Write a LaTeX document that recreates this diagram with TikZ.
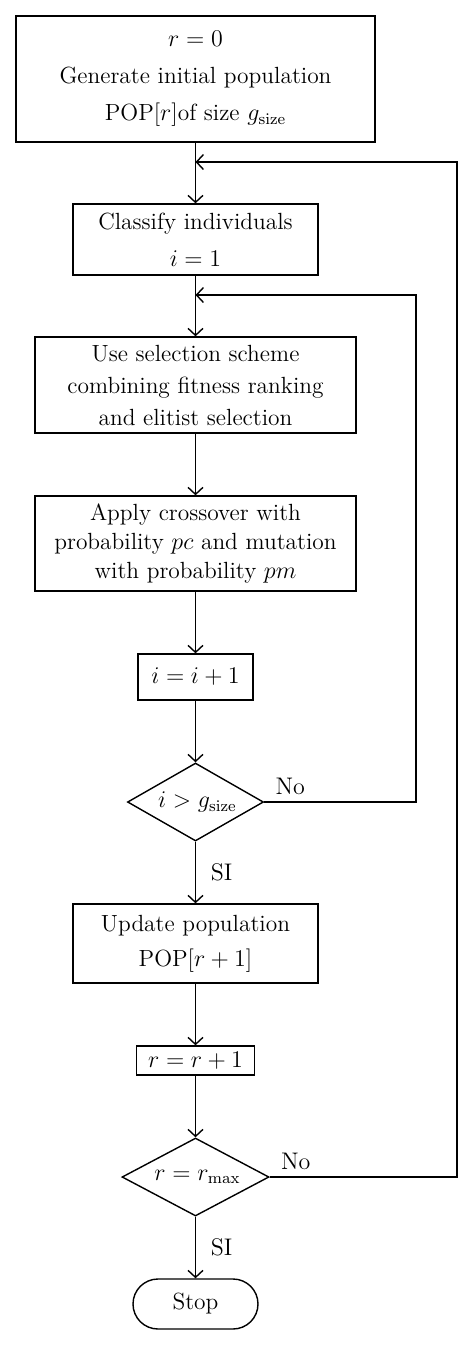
\documentclass[tikz,border=0pt]{standalone}
\usepackage{amsmath}
\usepackage{tikz}
\usetikzlibrary{arrows.meta,shapes.geometric}

\begin{document}
\begin{tikzpicture}[
    x=0.5pt, y=-0.5pt,
    every node/.style={font=\fontsize{11.7}{18.5}\selectfont},
    procbox/.style={rectangle, draw, line width=0.7pt, align=center,
        inner sep=0pt},
    decide/.style={diamond, draw, line width=0.7pt, inner sep=0pt,
        aspect=1.8},
    stopbox/.style={rectangle, rounded corners=12.5pt, draw,
        line width=0.7pt, inner sep=0pt},
    flow/.style={draw, line width=0.7pt,
        -{Straight Barb[length=3.5pt, width=7.5pt]}},
    lbl/.style={font=\fontsize{12}{13}\selectfont}
]
\useasboundingbox (0,0) rectangle (474,1346);
\node[procbox, minimum width=179.5pt, minimum height=63pt]
    (init) at (195.5, 79) {$r = 0$\\Generate initial population\\
    POP[$r$]of size $g_{\mathrm{size}}$};
\node[procbox, minimum width=122.5pt, minimum height=35.5pt]
    (classify) at (195.5, 239.5) {Classify individuals\\$i = 1$};
\node[procbox, minimum width=160.5pt, minimum height=48pt,
    font=\fontsize{11.7}{16}\selectfont]
    (select) at (195.5, 385) {Use selection scheme\\
    combining fitness ranking\\and elitist selection};
\node[procbox, minimum width=160.5pt, minimum height=47.5pt,
    font=\fontsize{11.7}{14.5}\selectfont]
    (cross) at (195.5, 543.5) {Apply crossover with\\
    probability $pc$ and mutation\\with probability $pm$};
\node[procbox, minimum width=57.5pt, minimum height=23pt]
    (inci) at (195.5, 677) {$i = i + 1$};
\node[decide, minimum width=68pt, minimum height=39pt]
    (testi) at (195.5, 802) {\,$i > g_{\mathrm{size}}$};
\node[procbox, minimum width=122.5pt, minimum height=39.5pt,
    font=\fontsize{11.7}{17.5}\selectfont]
    (update) at (195.5, 943.5) {Update population\\POP[$r + 1$]};
\node[procbox, minimum width=59pt, minimum height=14.5pt]
    (incr) at (195.5, 1060.5) {$r = r + 1$};
\node[decide, minimum width=73.5pt, minimum height=39pt]
    (testr) at (195.5, 1177) {\,$r = r_{\max}$};
\node[stopbox, minimum width=62.5pt, minimum height=25pt]
    (stop) at (195.5, 1304) {Stop};
% loop junctions and right rails
\coordinate (jout) at (195.5, 162);
\coordinate (jin)  at (195.5, 295);
\coordinate (railout) at (457, 0);
\coordinate (railin)  at (416, 0);
\draw[flow] (init) -- (classify);
\draw[flow] (classify) -- (select);
\draw[flow] (select) -- (cross);
\draw[flow] (cross) -- (inci);
\draw[flow] (inci) -- (testi);
\draw[flow] (testi) -- node[right, lbl, xshift=4pt]{SI} (update);
\draw[flow] (update) -- (incr);
\draw[flow] (incr) -- (testr);
\draw[flow] (testr) -- node[right, lbl, xshift=4pt]{SI} (stop);
\draw[flow] (testi.east) -- node[pos=0, above right, lbl, xshift=2pt]{No}
    (testi.east -| railin) |- (jin);
\draw[flow] (testr.east) -- node[pos=0, above right, lbl, xshift=2pt]{No}
    (testr.east -| railout) |- (jout);
\end{tikzpicture}
\end{document}
